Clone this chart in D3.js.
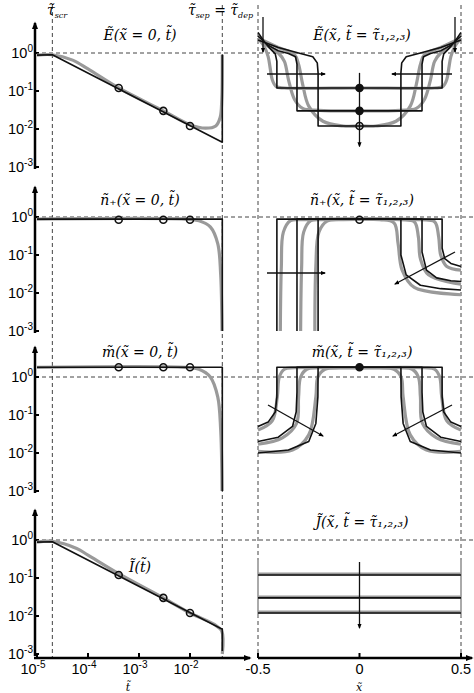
<!DOCTYPE html>
<html><head><meta charset="utf-8">
<script src="https://cdn.jsdelivr.net/npm/d3@7"></script>
<style>body{margin:0;background:#fff}</style></head><body>
<svg id="c" width="474" height="693"></svg>
<script>
// ---- data ----
const yTickExp = [0, -1, -2, -3];
const tTickExp = [-5, -4, -3, -2];
const xTickVals = [-0.5, 0, 0.5];
const tauScr = 2e-5, tauSep = 0.043;
const tk = [4e-4, 3e-3, 1e-2];

const E0black = [[1e-5,0.88],[2e-5,0.9],[0.043,0.0045],[0.043,0.9]];
const E0gray = [[1e-5,0.88],[2e-5,0.9],[5e-5,0.65],[1e-4,0.38],[4e-4,0.12],[3e-3,0.03],[1e-2,0.013],[0.02,0.0105],[0.032,0.012],[0.039,0.02],[0.042,0.06],[0.043,0.9]];
const E0pts = [0.12, 0.03, 0.012];
const n0black = [[1e-5,0.88],[0.043,0.88],[0.043,1e-3]];
const n0gray = [[1e-5,0.88],[0.008,0.88],[0.015,0.8],[0.025,0.55],[0.035,0.2],[0.04,0.03],[0.042,0.003],[0.0425,1e-3]];
const n0pts = [0.85, 0.85, 0.85];
const m0black = [[1e-5,1.8],[0.043,1.8],[0.043,1e-3]];
const m0gray = [[1e-5,1.8],[0.008,1.8],[0.015,1.6],[0.025,1.0],[0.035,0.3],[0.04,0.04],[0.042,0.004],[0.0425,1e-3]];
const m0pts = [1.8, 1.8, 1.8];
const I0black = [[1e-5,0.88],[2e-5,0.9],[0.043,0.0045],[0.043,0.0012]];
const I0gray = [[1e-5,0.88],[2e-5,0.92],[6e-5,0.6],[1e-4,0.4],[4e-4,0.13],[3e-3,0.03],[1e-2,0.012],[0.03,0.006],[0.042,0.004],[0.043,0.001]];
const I0pts = [0.12, 0.03, 0.012];

const Eblack = [
 [[-0.5,3.5],[-0.47,2],[-0.44,1.3],[-0.415,0.95],[-0.407,0.6],[-0.407,0.12],[0,0.12]],
 [[-0.5,2.8],[-0.45,1.6],[-0.4,1.15],[-0.35,0.97],[-0.315,0.8],[-0.308,0.5],[-0.308,0.03],[0,0.03]],
 [[-0.5,2.2],[-0.4,1.4],[-0.3,1.0],[-0.23,0.8],[-0.208,0.55],[-0.204,0.3],[-0.204,0.012],[0,0.012]]];
const Egray = [
 [[-0.5,2.5],[-0.47,1.5],[-0.45,0.8],[-0.44,0.4],[-0.43,0.2],[-0.41,0.13],[-0.37,0.12],[0,0.12]],
 [[-0.5,2.5],[-0.45,1.5],[-0.4,1.0],[-0.37,0.6],[-0.35,0.2],[-0.32,0.06],[-0.28,0.035],[-0.2,0.031],[0,0.03]],
 [[-0.5,2.5],[-0.4,1.4],[-0.32,0.9],[-0.3,0.5],[-0.28,0.15],[-0.25,0.04],[-0.18,0.016],[-0.08,0.012],[0,0.012]]];
const Epts = [0.12, 0.03, 0.012];
const nblack = [
 [[-0.407,1e-3],[-0.407,0.88],[0.407,0.88],[0.407,0.15],[0.42,0.08],[0.45,0.06],[0.5,0.05]],
 [[-0.308,1e-3],[-0.308,0.88],[0.308,0.88],[0.308,0.12],[0.33,0.04],[0.38,0.025],[0.45,0.021],[0.5,0.02]],
 [[-0.204,1e-3],[-0.204,0.88],[0.204,0.88],[0.204,0.1],[0.23,0.03],[0.3,0.016],[0.4,0.013],[0.5,0.012]]];
const ngray = [
 [[-0.39,1e-3],[-0.385,0.05],[-0.375,0.4],[-0.34,0.8],[-0.28,0.85],[0.3,0.85],[0.37,0.75],[0.39,0.3],[0.4,0.1],[0.43,0.05],[0.5,0.04]],
 [[-0.29,1e-3],[-0.285,0.05],[-0.275,0.4],[-0.24,0.8],[-0.18,0.85],[0.2,0.85],[0.27,0.75],[0.29,0.3],[0.3,0.08],[0.34,0.03],[0.5,0.017]],
 [[-0.22,1e-3],[-0.215,0.05],[-0.2,0.4],[-0.16,0.78],[-0.08,0.85],[0.1,0.85],[0.17,0.7],[0.19,0.2],[0.21,0.04],[0.27,0.014],[0.5,0.009]]];
const npts = [0.85];
const mblack = [
 [[-0.5,0.05],[-0.45,0.065],[-0.415,0.12],[-0.407,0.3],[-0.407,1.8],[0,1.8]],
 [[-0.5,0.02],[-0.4,0.026],[-0.33,0.05],[-0.312,0.12],[-0.308,0.4],[-0.308,1.8],[0,1.8]],
 [[-0.5,0.01],[-0.35,0.012],[-0.25,0.02],[-0.215,0.06],[-0.205,0.3],[-0.204,1.8],[0,1.8]]];
const mgray = [
 [[-0.5,0.04],[-0.43,0.07],[-0.405,0.3],[-0.395,1.0],[-0.37,1.6],[-0.32,1.75],[0,1.75]],
 [[-0.5,0.017],[-0.38,0.025],[-0.31,0.06],[-0.3,0.3],[-0.29,1.0],[-0.26,1.6],[-0.2,1.75],[0,1.75]],
 [[-0.5,0.011],[-0.33,0.012],[-0.25,0.03],[-0.215,0.3],[-0.205,1.0],[-0.17,1.6],[-0.1,1.75],[0,1.75]]];
const mpts = [1.8];
const Jvals = [0.12, 0.03, 0.012];

// ---- layout ----
const svg = d3.select('#c');
const top0 = [53, 217, 377, 540];
const xL = d3.scaleLog().domain([1e-5, 1e-2]).range([37, 190]);
const xR = d3.scaleLinear().domain([-0.5, 0.5]).range([258, 461]);
const yS = top0.map(t => d3.scaleLog().domain([1e-3, 1]).range([t + 114, t]));
const dash = '4,3';
const defs = svg.append('defs');
function mk(id, s){ defs.append('marker').attr('id',id).attr('viewBox','0 0 10 10').attr('refX',8).attr('refY',5)
 .attr('markerWidth',s).attr('markerHeight',s).attr('orient','auto-start-reverse')
 .append('path').attr('d','M0,1L10,5L0,9z').attr('fill','#000'); }
mk('a', 4); mk('big', 3.2);
const SERIF = 'DejaVu Serif';

const mirror = h => h.concat(h.slice(0,-1).reverse().map(([x,y]) => [-x,y]));
function path(g, data, xs, ys, gray){
  g.append('path').attr('d', d3.line().x(d=>xs(d[0])).y(d=>ys(d[1])).curve(gray?d3.curveCatmullRom:d3.curveLinear)(data))
   .attr('fill','none').attr('stroke', gray?'#9a9a9a':'#111').attr('stroke-width', gray?3.2:1.6).attr('stroke-linejoin','round');
}
function circ(g, x, y, fill){ g.append('circle').attr('cx',x).attr('cy',y).attr('r',3.5).attr('fill',fill).attr('stroke','#111').attr('stroke-width',1.6); }
function arrow(x1,y1,x2,y2){ svg.append('line').attr('x1',x1).attr('y1',y1).attr('x2',x2).attr('y2',y2).attr('stroke','#111').attr('stroke-width',1.3).attr('marker-end','url(#a)'); }
function title(x,y,s){ svg.append('text').attr('x',x).attr('y',y).attr('text-anchor','middle').attr('font-family',SERIF).attr('font-style','italic').attr('font-size',14).text(s); }

[xL(tauScr), xL(tauSep), xR(-0.5), xR(0.5)].forEach(x =>
  svg.append('line').attr('x1',x).attr('x2',x).attr('y1',5).attr('y2',658).attr('stroke','#444').attr('stroke-width',1).attr('stroke-dasharray',dash));

const leftBlack=[E0black,n0black,m0black,I0black], leftGray=[E0gray,n0gray,m0gray,I0gray], leftPts=[E0pts,n0pts,m0pts,I0pts];
const titlesL = ['Ẽ(x̃ = 0, t̃)','ñ₊(x̃ = 0, t̃)','m̃(x̃ = 0, t̃)','Ĩ(t̃)'];
const titlesR = ['Ẽ(x̃, t̃ = τ̃₁,₂,₃)','ñ₊(x̃, t̃ = τ̃₁,₂,₃)','m̃(x̃, t̃ = τ̃₁,₂,₃)','J̃(x̃, t̃ = τ̃₁,₂,₃)'];
const titlePosL = [[140,40],[140,205],[140,357],[140,572]];
const titlePosR = [[362,40],[362,205],[362,357],[362,527]];

yS.forEach((ys, i) => {
  const g = svg.append('g');
  g.append('line').attr('x1',35).attr('x2',474).attr('y1',ys(1)).attr('y2',ys(1)).attr('stroke','#444').attr('stroke-dasharray',dash);
  g.append('line').attr('x1',35).attr('x2',35).attr('y1',ys(1e-3)+2).attr('y2',ys(1)-30).attr('stroke','#000').attr('stroke-width',2.5).attr('marker-end','url(#big)');
  yTickExp.forEach(e => {
    g.append('line').attr('x1',35).attr('x2',39).attr('y1',ys(10**e)).attr('y2',ys(10**e)).attr('stroke','#000').attr('stroke-width',2);
    const t = g.append('text').attr('x',33).attr('y',ys(10**e)+5).attr('text-anchor','end').attr('font-family','Liberation Sans').attr('font-size',14.5).text('10');
    t.append('tspan').attr('dy',-6).attr('font-size',10).text(String(e));
  });
  path(g, leftGray[i], xL, ys, true);
  path(g, leftBlack[i], xL, ys, false);
  tk.forEach((t,j) => circ(g, xL(t), ys(leftPts[i][j]), 'none'));
  title(titlePosL[i][0], titlePosL[i][1], titlesL[i]);
  title(titlePosR[i][0], titlePosR[i][1], titlesR[i]);
});

Egray.forEach(h => path(svg, mirror(h), xR, yS[0], true));
Eblack.forEach(h => path(svg, mirror(h), xR, yS[0], false));
arrow(xR(0), yS[0](0.3), xR(0), yS[0](0.0035));
Epts.forEach((v,j) => circ(svg, xR(0), yS[0](v), j<2?'#111':'none'));
arrow(267, 74, 325, 74); arrow(452, 74, 392, 74);
arrow(263, 17, 263, 52); arrow(455, 17, 455, 52);

ngray.forEach(h => path(svg, h, xR, yS[1], true));
nblack.forEach(h => path(svg, h, xR, yS[1], false));
circ(svg, xR(0), yS[1](npts[0]), 'none');
arrow(267, 273, 325, 273); arrow(455, 252, 395, 284);

mgray.forEach(h => path(svg, mirror(h), xR, yS[2], true));
mblack.forEach(h => path(svg, mirror(h), xR, yS[2], false));
circ(svg, xR(0), yS[2](mpts[0]), '#111');
arrow(268, 405, 323, 436); arrow(452, 405, 393, 436);

svg.append('line').attr('x1',xR(-0.5)).attr('x2',xR(-0.5)).attr('y1',560).attr('y2',617).attr('stroke','#aaa').attr('stroke-width',2);
svg.append('line').attr('x1',xR(0.5)).attr('x2',xR(0.5)).attr('y1',560).attr('y2',617).attr('stroke','#aaa').attr('stroke-width',2);
Jvals.forEach(v => path(svg, [[-0.5,v*1.05],[0.5,v*1.05]], xR, yS[3], true));
Jvals.forEach(v => path(svg, [[-0.5,v],[0.5,v]], xR, yS[3], false));
arrow(xR(0), 562, xR(0), 628);

const yb = 658;
svg.append('line').attr('x1',34).attr('x2',250).attr('y1',yb).attr('y2',yb).attr('stroke','#000').attr('stroke-width',2.5).attr('marker-end','url(#big)');
svg.append('line').attr('x1',258).attr('x2',472).attr('y1',yb).attr('y2',yb).attr('stroke','#000').attr('stroke-width',2.5).attr('marker-end','url(#big)');
tTickExp.forEach(e => {
  svg.append('line').attr('x1',xL(10**e)).attr('x2',xL(10**e)).attr('y1',yb).attr('y2',yb-5).attr('stroke','#000').attr('stroke-width',2);
  const t = svg.append('text').attr('x',xL(10**e)-4).attr('y',yb+16).attr('text-anchor','middle').attr('font-family','Liberation Sans').attr('font-size',14.5).text('10');
  t.append('tspan').attr('dy',-6).attr('font-size',10).text(String(e));
});
xTickVals.forEach(v => {
  svg.append('line').attr('x1',xR(v)).attr('x2',xR(v)).attr('y1',yb).attr('y2',yb-5).attr('stroke','#000').attr('stroke-width',2);
  svg.append('text').attr('x',xR(v)).attr('y',yb+16).attr('text-anchor','middle').attr('font-family','Liberation Sans').attr('font-size',14.5).text(String(v));
});
svg.append('text').attr('x',128).attr('y',691).attr('text-anchor','middle').attr('font-family',SERIF).attr('font-style','italic').attr('font-size',11).text('t̃');
svg.append('text').attr('x',359).attr('y',691).attr('text-anchor','middle').attr('font-family',SERIF).attr('font-style','italic').attr('font-size',11).text('x̃');
const tl = svg.append('text').attr('x',47).attr('y',15).attr('font-family',SERIF).attr('font-style','italic').attr('font-size',14).text('τ̃');
tl.append('tspan').attr('font-size',8).attr('dy',3).text('scr');
const tr = svg.append('text').attr('x',188).attr('y',15).attr('font-family',SERIF).attr('font-style','italic').attr('font-size',14).text('τ̃');
tr.append('tspan').attr('font-size',8).attr('dy',3).text('sep');
tr.append('tspan').attr('dy',-3).text(' = τ̃');
tr.append('tspan').attr('font-size',8).attr('dy',3).text('dep');
</script></body></html>
